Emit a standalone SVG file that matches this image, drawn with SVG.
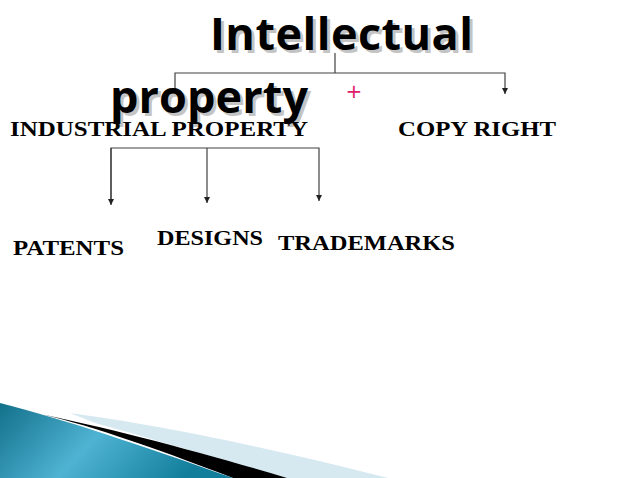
<svg xmlns="http://www.w3.org/2000/svg" width="638" height="478" viewBox="0 0 638 478">
<defs>
<style>
.title{font-family:"Open Sans","DejaVu Sans",sans-serif;font-weight:700;font-size:45px;fill:#000}
.shadow{font-family:"Open Sans","DejaVu Sans",sans-serif;font-weight:700;font-size:45px;fill:#c4c4c4}
.lbl{font-family:"Liberation Serif","Times New Roman",serif;font-weight:bold;font-size:21px;fill:#000}
.ln{stroke:#404040;stroke-width:1.2;fill:none}
</style>
<marker id="ah" viewBox="0 0 6 6" refX="6" refY="3" markerWidth="6" markerHeight="6" orient="auto" markerUnits="userSpaceOnUse">
<path d="M0,0 L6,3 L0,6 Z" fill="#222"/>
</marker>
<linearGradient id="teal" x1="0" y1="0" x2="1" y2="0.3">
<stop offset="0" stop-color="#12708a"/>
<stop offset="0.5" stop-color="#4fb3d3"/>
<stop offset="1" stop-color="#127e9c"/>
</linearGradient>
</defs>
<rect width="638" height="478" fill="#fff"/>
<g id="decor">
<path d="M70,413 C160,425 280,450 388,478 L287,478 C220,460 150,438 95,423 Z" fill="#d6e9f1"/>
<path d="M35,413 C110,428 200,452 287,478 L233,478 C150,446 80,422 35,413 Z" fill="#000"/>
<path d="M0,403 C60,418 140,445 233,478 L0,478 Z" fill="url(#teal)"/>
</g>
<g id="connectors">
<path class="ln" d="M335,53 V73"/>
<path class="ln" d="M175,96 V73 H505 V94" marker-end="url(#ah)"/>
<path class="ln" d="M111,204 V148 H319 V201" marker-end="url(#ah)"/>
<path class="ln" d="M111,148 V205" marker-end="url(#ah)"/>
<path class="ln" d="M207,148 V203" marker-end="url(#ah)"/>
</g>
<g id="title">
<text class="shadow" x="213" y="53" textLength="263" lengthAdjust="spacing">Intellectual</text>
<text class="title" x="210" y="50" textLength="263" lengthAdjust="spacing">Intellectual</text>
<text class="shadow" x="113" y="116" textLength="198" lengthAdjust="spacing">property</text>
<text class="title" x="110" y="113" textLength="198" lengthAdjust="spacing">property</text>
</g>
<g id="plus"><text x="354" y="98" text-anchor="middle" style="font-family:'DejaVu Sans',sans-serif;font-size:20px;fill:#e0206a">+</text></g>
<g id="industrial"><text class="lbl" x="10" y="136" textLength="298" lengthAdjust="spacingAndGlyphs">INDUSTRIAL PROPERTY</text></g>
<g id="copyright"><text class="lbl" x="398" y="136" textLength="158" lengthAdjust="spacingAndGlyphs">COPY RIGHT</text></g>
<g id="patents"><text class="lbl" x="13" y="255" textLength="111" lengthAdjust="spacingAndGlyphs">PATENTS</text></g>
<g id="designs"><text class="lbl" x="157" y="245" textLength="106" lengthAdjust="spacingAndGlyphs">DESIGNS</text></g>
<g id="trademarks"><text class="lbl" x="278" y="250" textLength="177" lengthAdjust="spacingAndGlyphs">TRADEMARKS</text></g>
</svg>
